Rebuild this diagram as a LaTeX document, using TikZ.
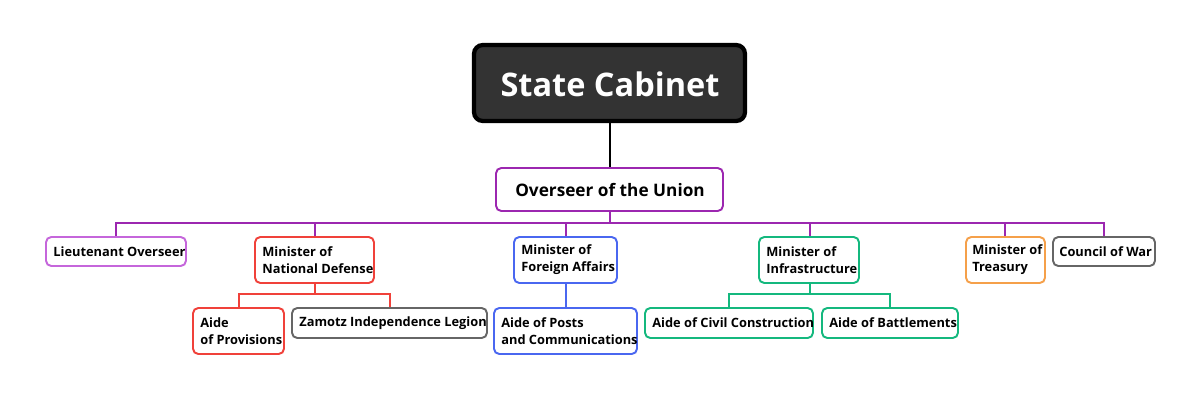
\documentclass[tikz,border=0pt]{standalone}
\usepackage{fontspec}
\setmainfont{Open Sans}
\begin{document}
\begin{tikzpicture}[x=0.02cm,y=-0.02cm,
 box/.style={draw=#1,line width=1.1pt,rounded corners=3pt,fill=white},
 lk/.style={draw=#1,line width=1.1pt}]
\useasboundingbox (0,0) rectangle (1200,400);
\definecolor{pur}{HTML}{9C27B0}\definecolor{lpur}{HTML}{C566DB}
\definecolor{red1}{HTML}{F0413A}\definecolor{blu}{HTML}{4A67F0}
\definecolor{grn}{HTML}{14B87E}\definecolor{org}{HTML}{F5A04A}
\definecolor{gry}{HTML}{666666}\definecolor{dk}{HTML}{333333}
\path[draw=black,line width=2.4pt,fill=dk,rounded corners=5pt] (474,45) rectangle (745,121);
\node[text=white,font=\bfseries\fontsize{18.5}{22}\selectfont] (st) at (610,84) {State Cabinet};
\draw[line width=1.5pt] (610,121) -- (610,168);
\path[box=pur] (496,168) rectangle (723,211);
\node[font=\bfseries\fontsize{9.8}{12}\selectfont] (ov) at (610,189.5) {Overseer of the Union};
% bus
\draw[lk=pur] (610,211) -- (610,223);
\draw[lk=pur] (116,237) -- (116,223) -- (1104,223) -- (1104,237);
\foreach \x in {315,566,810,1005} \draw[lk=pur] (\x,223) -- (\x,237);
% level 2
\path[box=lpur] (46,237) rectangle (186,266);
\path[box=red1] (255,237) rectangle (374,283);
\path[box=blu] (514,237) rectangle (617,283);
\path[box=grn] (759,237) rectangle (859,283);
\path[box=org] (966,237) rectangle (1045,283);
\path[box=gry] (1053,237) rectangle (1155,266);
\tikzset{t/.style={font=\bfseries\fontsize{7.3}{9.6}\selectfont,align=left,anchor=west,inner sep=0pt}}
\node[t] (lo) at (53,251.5) {Lieutenant Overseer};
\node[t] (nd) at (262,260) {Minister of\\National Defense};
\node[t] (fa) at (521,260) {Minister of\\Foreign Affairs};
\node[t] (in) at (766,260) {Minister of\\Infrastructure};
\node[t] (tr) at (972,260) {Minister of\\Treasury};
\node[t] (cw) at (1059,251.5) {Council of War};
% level 3 connectors
\draw[lk=red1] (315,283) -- (315,294);
\draw[lk=red1] (239,308) -- (239,294) -- (390,294) -- (390,308);
\draw[lk=blu] (566,283) -- (566,308);
\draw[lk=grn] (810,283) -- (810,294);
\draw[lk=grn] (729,308) -- (729,294) -- (890,294) -- (890,308);
\path[box=red1] (193,308) rectangle (284,354);
\path[box=gry] (292,308) rectangle (487,338);
\path[box=blu] (494,308) rectangle (637,354);
\path[box=grn] (645,308) rectangle (813,338);
\path[box=grn] (822,308) rectangle (958,338);
\node[t] (ap) at (200,331) {Aide\\of Provisions};
\node[t] (zl) at (299,323) {Zamotz Independence Legion};
\node[t] (pc) at (501,331) {Aide of Posts\\and Communications};
\node[t] (cc) at (652,323) {Aide of Civil Construction};
\node[t] (ab) at (829,323) {Aide of Battlements};
\end{tikzpicture}
\end{document}
